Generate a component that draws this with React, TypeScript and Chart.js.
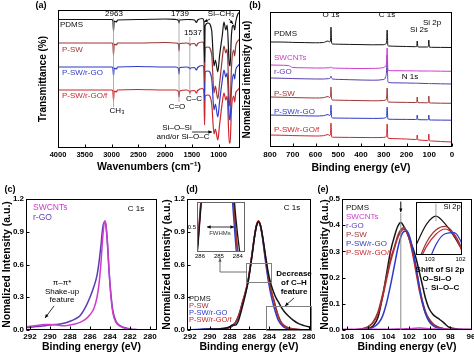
import React, { useEffect, useRef } from 'react';
import { Chart, registerables } from 'chart.js';
Chart.register(...registerables);

const FONT = '"Liberation Sans", Arial, Helvetica, sans-serif';
const COL = { PDMS: '#141414', PSW: '#9b3535', PSWRGO: '#2e3bc6', PSWRGOF: '#cc252d', SWCNT: '#cc3ccf', RGO: '#5a3cb3' };

// ---------- tick labels ----------
const ftirTicks = [4000, 3500, 3000, 2500, 2000, 1500, 1000];
const xpsTicks = [800, 700, 600, 500, 400, 300, 200, 100, 0];
const c1sTicks = [292, 290, 288, 286, 284, 282, 280];
const si2pTicks = [108, 106, 104, 102, 100, 98, 96];
const c1sIntensityTicks = [0, 0.3, 0.6, 0.9, 1.2];
const si2pIntensityTicks = [0, 0.1, 0.2, 0.3, 0.4, 0.5];
const c1sInsetTicks = [286, 285, 284];
const c1sInsetYTicks = [0.5];
const si2pInsetTicks = [103, 102];

// ---------- (a) FTIR ----------
const ftirWavenumbers = [4000, 3500, 3000, 2975, 2963, 2950, 2905, 2890, 2500, 2000, 1800, 1750, 1739, 1728, 1600, 1545, 1537, 1525, 1450, 1415, 1390, 1300, 1275, 1262, 1252, 1200, 1130, 1085, 1060, 1015, 980, 930, 900, 865, 840, 800, 785, 760, 720, 700, 680, 640, 600];
const ftirPDMS = [128.5, 128.5, 128.5, 127.5, 117, 127, 126, 128, 128.5, 129, 128.5, 127.5, 125, 128, 128.5, 128.5, 128.3, 128.5, 128, 125.5, 128, 129.5, 127, 86, 122, 125, 118, 82, 88, 76, 93, 113, 126, 118, 123, 84, 82, 113, 123, 118, 126, 134, 136];
const ftirPSW = [105, 105, 105, 104, 93, 104, 103, 105, 105, 105.5, 105, 104, 97, 104.5, 105, 104, 102.5, 104, 104.5, 102, 104.5, 106, 104, 66, 100, 101, 94, 55, 62, 49, 65, 90, 102, 95, 99, 45, 42, 80, 98, 92, 102, 107, 109];
const ftirPSWrGO = [81, 81, 81, 80, 72.5, 80, 79, 81, 81.5, 81, 81, 79.5, 74, 80.5, 81, 80, 79, 80, 80.5, 78, 80.5, 82.5, 80, 48, 76, 77, 70, 38, 44, 31, 47, 68, 78, 71, 75, 30, 28, 58, 74, 69, 78, 82, 84];
const ftirPSWrGOf = [58, 58, 58, 57, 48, 57, 56, 58, 58.5, 58, 58, 56.5, 51, 57, 58, 56.5, 55, 57, 57.5, 55, 57.5, 59.5, 57, 23, 52, 53, 45, 14, 19, 8, 24, 46, 55, 48, 52, 5, 5, 38, 52, 46, 55, 58, 61];

// ---------- (b) XPS survey ----------
const xpsBE = [800, 760, 720, 700, 650, 600, 565, 545, 538, 534, 532, 529, 525, 500, 450, 400, 350, 300, 292, 288, 285, 282, 278, 260, 200, 160, 155, 153, 150, 145, 110, 104, 102, 99, 90, 50, 0];
const xpsPDMS = [105, 105, 104.8, 104.6, 104.4, 104.2, 104.5, 106, 105, 107, 120, 104, 103, 102.8, 102.6, 102.4, 102.2, 102.3, 103, 104, 117, 101.5, 101, 100.8, 100.5, 100.3, 100.5, 106, 100.2, 100, 100, 100.5, 107, 99.8, 99.7, 99.6, 99.5];
const xpsSWCNT = [82, 81.8, 81.5, 79.5, 79.2, 79, 79, 79.2, 79.3, 79.6, 80.2, 79.3, 79, 78.8, 78.6, 78.5, 78.6, 79.5, 81, 84, 99, 78, 76.5, 76.3, 76.2, 76.1, 76.1, 76.1, 76.1, 76, 76, 76, 76, 76, 76, 75.8, 75.7];
const xpsRGO = [69, 68.8, 68.6, 68.4, 68.2, 68, 68, 68.3, 68.6, 69.5, 71, 69, 68, 67.6, 67.3, 67, 66.8, 67.5, 70, 75, 92, 66, 64.5, 64.2, 64, 63.8, 63.8, 63.8, 63.8, 63.7, 63.5, 63.5, 63.5, 63.4, 63.4, 63.2, 63];
const xpsPSW = [50, 49.8, 49.6, 49.4, 49.2, 49, 49.3, 50.5, 49.5, 51, 60, 48, 47, 46.8, 46.6, 46.4, 46.2, 46.5, 47, 48, 59, 45.5, 45, 44.8, 44.6, 44.5, 44.7, 50, 44.4, 44.3, 44.2, 44.5, 51, 44, 44, 43.8, 43.7];
const xpsPSWrGO = [32, 31.8, 31.6, 31.4, 31.2, 31, 31.3, 32.5, 31.5, 33, 42, 30, 29, 28.9, 28.8, 28.7, 28.6, 28.8, 29.3, 30, 40, 28, 27.8, 27.7, 27.6, 27.5, 27.7, 32, 27.4, 27.3, 27.2, 27.5, 32, 27, 27, 26.9, 26.8];
const xpsPSWrGOf = [12, 11.8, 11.6, 11.4, 11.2, 11, 11.3, 12.5, 11.5, 13, 24, 10, 9.8, 9.7, 9.6, 9.5, 9.4, 9.6, 10, 10.5, 23, 9, 8.6, 8.4, 8, 7.5, 7.7, 12, 7.2, 7, 6.5, 6.8, 13, 6.2, 6, 5.5, 5];

// ---------- (c) C 1s SWCNTs / r-GO ----------
const c1sCBE = [292.4, 292, 291, 290.5, 290, 289.5, 289, 288.5, 288, 287.5, 287, 286.5, 286, 285.6, 285.3, 285.1, 284.9, 284.75, 284.6, 284.5, 284.4, 284.25, 284.1, 283.9, 283.7, 283.4, 283, 282.5, 282, 281.5, 281, 280, 279.3];
const c1sSWCNT = [0.03, 0.035, 0.045, 0.05, 0.05, 0.047, 0.042, 0.04, 0.045, 0.055, 0.07, 0.095, 0.14, 0.2, 0.3, 0.42, 0.62, 0.82, 0.97, 1.0, 0.96, 0.8, 0.55, 0.3, 0.15, 0.07, 0.035, 0.015, 0.008, 0.004, 0.003, 0.002, 0.002];
const c1sRGO = [0.02, 0.025, 0.035, 0.04, 0.045, 0.05, 0.055, 0.065, 0.08, 0.1, 0.13, 0.2, 0.3, 0.4, 0.5, 0.62, 0.78, 0.92, 0.985, 0.99, 0.95, 0.78, 0.55, 0.32, 0.17, 0.08, 0.04, 0.02, 0.01, 0.004, 0.002, 0.002, 0.002];

// ---------- (d) C 1s composites ----------
const c1sDBE = [292.3, 291, 290, 289.1, 288.6, 288.1, 287.7, 287.4, 287.1, 286.9, 286.7, 286.5, 286.3, 286.1, 285.9, 285.7, 285.5, 285.3, 285.1, 284.9, 284.7, 284.5, 284.3, 284.1, 283.9, 283.7, 283.5, 283.3, 283.1, 282.8, 282.5, 282.1, 281.6, 281.1, 280.5, 279.8];
const c1sDPDMS = [0, 0.003, 0.006, 0.01, 0.015, 0.025, 0.045, 0.045, 0.09, 0.15, 0.22, 0.29, 0.37, 0.46, 0.58, 0.71, 0.85, 0.95, 0.99, 0.96, 0.87, 0.75, 0.63, 0.52, 0.44, 0.38, 0.33, 0.29, 0.26, 0.21, 0.17, 0.13, 0.09, 0.06, 0.04, 0.025];
const c1sDPSW = [0, 0.002, 0.004, 0.007, 0.011, 0.022, 0.042, 0.072, 0.13, 0.185, 0.255, 0.315, 0.385, 0.47, 0.59, 0.72, 0.85, 0.955, 0.995, 0.96, 0.865, 0.74, 0.61, 0.49, 0.395, 0.32, 0.255, 0.185, 0.125, 0.068, 0.038, 0.018, 0.009, 0.004, 0.002, 0];
const c1sDPSWrGO = [0, 0.008, 0.012, 0.01, 0.012, 0.02, 0.038, 0.068, 0.125, 0.18, 0.25, 0.31, 0.38, 0.47, 0.59, 0.72, 0.85, 0.955, 0.99, 0.955, 0.85, 0.71, 0.57, 0.45, 0.35, 0.27, 0.2, 0.14, 0.09, 0.05, 0.025, 0.012, 0.006, 0.003, 0.001, 0];
const c1sDPSWrGOf = [0, 0.002, 0.004, 0.006, 0.01, 0.02, 0.04, 0.07, 0.13, 0.19, 0.26, 0.32, 0.39, 0.48, 0.6, 0.73, 0.86, 0.96, 1.0, 0.96, 0.86, 0.73, 0.6, 0.48, 0.39, 0.32, 0.26, 0.19, 0.13, 0.07, 0.04, 0.02, 0.01, 0.005, 0.002, 0];

// ---------- (e) Si 2p ----------
const si2pBE = [108.5, 107, 106, 105.5, 105, 104.6, 104.2, 103.8, 103.4, 103.1, 102.8, 102.5, 102.2, 101.9, 101.6, 101.3, 101.0, 100.7, 100.4, 100.1, 99.7, 99.2, 98.7, 98.2, 97, 95.9];
const si2pPDMS = [0, 0.001, 0.005, 0.015, 0.05, 0.12, 0.21, 0.3, 0.36, 0.395, 0.41, 0.395, 0.37, 0.34, 0.31, 0.27, 0.22, 0.17, 0.12, 0.085, 0.06, 0.045, 0.03, 0.012, 0.003, 0.001];
const si2pSWCNT = [0.003, 0.003, 0.003, 0.003, 0.003, 0.003, 0.003, 0.003, 0.003, 0.004, 0.004, 0.004, 0.005, 0.005, 0.006, 0.007, 0.008, 0.007, 0.006, 0.005, 0.004, 0.003, 0.003, 0.003, 0.003, 0.003];
const si2pRGO = [0.001, 0.001, 0.001, 0.001, 0.001, 0.001, 0.001, 0.001, 0.002, 0.002, 0.002, 0.002, 0.002, 0.002, 0.002, 0.002, 0.002, 0.002, 0.001, 0.001, 0.001, 0.001, 0.001, 0.001, 0.001, 0.001];
const si2pPSW = [0, 0.002, 0.012, 0.03, 0.07, 0.13, 0.2, 0.27, 0.32, 0.36, 0.383, 0.39, 0.375, 0.34, 0.29, 0.23, 0.165, 0.11, 0.07, 0.045, 0.025, 0.012, 0.006, 0.003, 0.001, 0];
const si2pPSWrGO = [0, 0.001, 0.004, 0.01, 0.025, 0.05, 0.1, 0.17, 0.25, 0.31, 0.355, 0.376, 0.378, 0.35, 0.3, 0.235, 0.165, 0.105, 0.062, 0.035, 0.017, 0.007, 0.003, 0.001, 0, 0];
const si2pPSWrGOf = [0, 0.002, 0.011, 0.027, 0.065, 0.12, 0.19, 0.26, 0.315, 0.352, 0.375, 0.385, 0.372, 0.335, 0.28, 0.215, 0.15, 0.1, 0.062, 0.04, 0.022, 0.011, 0.005, 0.002, 0.001, 0];

// ---------- helpers ----------
type Item = {
  t: 'text' | 'line' | 'rect'; px?: boolean; x?: number; y?: number; s?: string; c?: string; f?: number; b?: boolean;
  a?: CanvasTextAlign; x1?: number; y1?: number; x2?: number; y2?: number; w?: number; arrow?: boolean; arrow2?: boolean;
};
type AxisCfg = {
  min: number; max: number; ticks?: number[]; size: number; labels?: boolean; display?: boolean;
  title?: string; titleSize?: number; titlePad?: number; tickPad?: number; tickSize?: number; tickBold?: boolean;
  fmt?: (v: number) => string;
};
type PanelSpec = {
  key: string; left: number; top: number; w: number; h: number;
  pad: { top?: number; right?: number; bottom?: number; left?: number };
  x: AxisCfg; y: AxisCfg; datasets: any[]; items: Item[]; xTicks?: number; yTicks?: number; frameColor?: string;
};

const line = (label: string, xs: number[], ys: number[], color: string, width: number) => ({
  label,
  data: xs.map((x, i) => ({ x, y: ys[i] })),
  borderColor: color,
  backgroundColor: color,
  borderWidth: width,
  pointRadius: 0,
  fill: false,
  cubicInterpolationMode: 'monotone',
});

const T = (x: number, y: number, s: string, c = '#000', f = 8, b = false, a: CanvasTextAlign = 'center'): Item =>
  ({ t: 'text', px: true, x, y, s, c, f, b, a });
const L = (x1: number, y1: number, x2: number, y2: number, c = '#000', w = 1, arrow = false, px = true, arrow2 = false): Item =>
  ({ t: 'line', x1, y1, x2, y2, c, w, arrow, px, arrow2 });
const R = (x1: number, y1: number, x2: number, y2: number, c = '#888', w = 1): Item =>
  ({ t: 'rect', x1, y1, x2, y2, c, w, px: false });

function head(ctx: CanvasRenderingContext2D, x1: number, y1: number, x2: number, y2: number, size: number) {
  const a = Math.atan2(y2 - y1, x2 - x1);
  ctx.beginPath();
  ctx.moveTo(x2, y2);
  ctx.lineTo(x2 - size * Math.cos(a - 0.42), y2 - size * Math.sin(a - 0.42));
  ctx.lineTo(x2 - size * Math.cos(a + 0.42), y2 - size * Math.sin(a + 0.42));
  ctx.closePath();
  ctx.fill();
}

function makeAnno(spec: PanelSpec) {
  return {
    id: 'anno_' + spec.key,
    afterDatasetsDraw(chart: any) {
      const { ctx, chartArea: ca, scales } = chart;
      const xs = scales.x, ys = scales.y;
      const P = (x: number, y: number, px?: boolean): [number, number] =>
        px ? [x - spec.left, y - spec.top] : [xs.getPixelForValue(x), ys.getPixelForValue(y)];
      ctx.save();
      ctx.strokeStyle = spec.frameColor || '#000';
      ctx.lineWidth = 1;
      const l = Math.round(ca.left) + 0.5, t = Math.round(ca.top) + 0.5;
      const r = Math.round(ca.right) - 0.5, b = Math.round(ca.bottom) - 0.5;
      ctx.strokeRect(l, t, r - l, b - t);
      ctx.strokeStyle = '#000';
      ctx.beginPath();
      if (spec.xTicks) for (const tk of xs.ticks) {
        const x = Math.round(xs.getPixelForValue(tk.value)) + 0.5;
        ctx.moveTo(x, b); ctx.lineTo(x, b - spec.xTicks);
      }
      if (spec.yTicks) for (const tk of ys.ticks) {
        const y = Math.round(ys.getPixelForValue(tk.value)) + 0.5;
        ctx.moveTo(l, y); ctx.lineTo(l + spec.yTicks, y);
      }
      ctx.stroke();
      for (const it of spec.items) {
        if (it.t === 'text') {
          const [x, y] = P(it.x!, it.y!, it.px);
          ctx.font = `${it.b ? 'bold ' : ''}${it.f || 8}px ${FONT}`;
          ctx.fillStyle = it.c || '#000';
          ctx.textAlign = it.a || 'center';
          ctx.textBaseline = 'middle';
          ctx.fillText(it.s!, x, y);
        } else if (it.t === 'line') {
          const [x1, y1] = P(it.x1!, it.y1!, it.px);
          const [x2, y2] = P(it.x2!, it.y2!, it.px);
          ctx.strokeStyle = it.c || '#000';
          ctx.fillStyle = it.c || '#000';
          ctx.lineWidth = it.w || 1;
          ctx.beginPath(); ctx.moveTo(x1, y1); ctx.lineTo(x2, y2); ctx.stroke();
          if (it.arrow) head(ctx, x1, y1, x2, y2, 4);
          if (it.arrow2) head(ctx, x2, y2, x1, y1, 4);
        } else if (it.t === 'rect') {
          const [x1, y1] = P(it.x1!, it.y1!, it.px);
          const [x2, y2] = P(it.x2!, it.y2!, it.px);
          ctx.strokeStyle = it.c || '#888';
          ctx.lineWidth = it.w || 1;
          ctx.strokeRect(Math.round(Math.min(x1, x2)) + 0.5, Math.round(Math.min(y1, y2)) + 0.5,
            Math.round(Math.abs(x2 - x1)), Math.round(Math.abs(y2 - y1)));
        }
      }
      ctx.restore();
    },
  };
}

function axis(c: AxisCfg, horizontal: boolean) {
  return {
    type: 'linear',
    display: c.display !== false,
    reverse: horizontal,
    min: c.min,
    max: c.max,
    ticks: {
      autoSkip: false,
      maxRotation: 0,
      display: c.labels !== false,
      color: '#000',
      padding: c.tickPad ?? 2,
      font: { family: FONT, size: c.tickSize ?? 8, weight: c.tickBold === false ? 'normal' : 'bold' },
      callback: (v: any) => (c.fmt ? c.fmt(Number(v)) : String(v)),
    },
    afterBuildTicks: (s: any) => {
      s.ticks = (c.ticks || []).map((v) => ({ value: v }));
    },
    grid: { display: false, drawTicks: false },
    border: { display: false },
    title: {
      display: !!c.title,
      text: c.title || '',
      color: '#000',
      font: { family: FONT, size: c.titleSize ?? 10.5, weight: 'bold' },
      padding: horizontal ? { top: 0, bottom: c.titlePad ?? 0 } : { top: c.titlePad ?? 0, bottom: 0 },
    },
    afterFit: (s: any) => {
      if (horizontal) s.height = c.size; else s.width = c.size;
      s.paddingLeft = 0; s.paddingRight = 0; s.paddingTop = 0; s.paddingBottom = 0;
    },
  };
}

function buildConfig(p: PanelSpec): any {
  return {
    type: 'line',
    data: { datasets: p.datasets },
    plugins: [makeAnno(p)],
    options: {
      responsive: false,
      maintainAspectRatio: false,
      animation: false,
      events: [],
      layout: { padding: { top: 0, right: 0, bottom: 0, left: 0, ...p.pad } },
      plugins: { legend: { display: false }, tooltip: { enabled: false }, title: { display: false } },
      scales: { x: axis(p.x, true), y: axis(p.y, false) },
    },
  };
}

const f1 = (v: number) => v.toFixed(1);

// ---------- panels ----------
const PANELS: PanelSpec[] = [
  {
    key: 'a', left: 0, top: 0, w: 241, h: 175, pad: { top: 10, right: 1 },
    x: { min: 600, max: 4000, ticks: ftirTicks, size: 27, tickPad: 2, tickSize: 7.5, title: 'Wavenumbers (cm\u207B\u00B9)', titleSize: 10.5, titlePad: 1.7 },
    y: { min: 0, max: 138, labels: false, size: 58, title: 'Transmittance (%)', titleSize: 10, titlePad: 37 },
    xTicks: 3,
    datasets: [
      line('PDMS', ftirWavenumbers, ftirPDMS, COL.PDMS, 1.2),
      line('P-SW', ftirWavenumbers, ftirPSW, COL.PSW, 1.2),
      line('P-SW/r-GO', ftirWavenumbers, ftirPSWrGO, COL.PSWRGO, 1.2),
      line('P-SW/r-GO/f', ftirWavenumbers, ftirPSWrGOf, COL.PSWRGOF, 1.2),
    ],
    items: [
      L(2963, 130, 2963, 41, '#9a9a9a', 0.8, false, false),
      L(1739, 130, 1739, 46, '#9a9a9a', 0.8, false, false),
      L(1537, 111, 1537, 53, '#9a9a9a', 0.8, false, false),
      T(41, 6, '(a)', '#000', 9, true),
      T(114, 14, '2963'), T(180, 14, '1739'), T(193, 33, '1537'), T(221, 14, 'Si\u2013CH\u2083'),
      T(60, 25, 'PDMS', COL.PDMS, 8, false, 'left'),
      T(62, 50, 'P-SW', COL.PSW, 8, false, 'left'),
      T(62, 73, 'P-SW/r-GO', COL.PSWRGO, 8, false, 'left'),
      T(62, 96, 'P-SW/r-GO/f', COL.PSWRGOF, 8, false, 'left'),
      T(117, 111, 'CH\u2083'), T(177, 107, 'C=O'), T(194, 99, 'C\u2013C'),
      T(177, 128, 'Si\u2013O\u2013Si'), T(183, 137, 'and/or Si\u2013O\u2013C'),
      L(210, 19, 204, 22, '#000', 0.8, true), L(229, 19, 233, 24, '#000', 0.8, true),
      L(192, 132, 212, 132, '#000', 0.8, true),
    ],
  },
  {
    key: 'b', left: 234, top: 0, w: 240, h: 175, pad: { top: 12, right: 22 },
    x: { min: 0, max: 800, ticks: xpsTicks, size: 28, tickPad: 3, title: 'Binding energy (eV)', titleSize: 10.5, titlePad: 0.7 },
    y: { min: 0, max: 135, labels: false, size: 36, title: 'Nomalized intensity (a.u)', titleSize: 10, titlePad: 7 },
    xTicks: 3,
    datasets: [
      line('PDMS', xpsBE, xpsPDMS, COL.PDMS, 1),
      line('SWCNTs', xpsBE, xpsSWCNT, COL.SWCNT, 1),
      line('r-GO', xpsBE, xpsRGO, COL.RGO, 1),
      line('P-SW', xpsBE, xpsPSW, COL.PSW, 1),
      line('P-SW/r-GO', xpsBE, xpsPSWrGO, COL.PSWRGO, 1),
      line('P-SW/r-GO/f', xpsBE, xpsPSWrGOf, COL.PSWRGOF, 1),
    ],
    items: [
      T(255, 6, '(b)', '#000', 9, true),
      T(331, 15, 'O 1s'), T(387, 15, 'C 1s'), T(419, 30, 'Si 2s'), T(432, 23, 'Si 2p'), T(410, 77, 'N 1s'),
      T(274, 34, 'PDMS', COL.PDMS, 8, false, 'left'),
      T(274, 58, 'SWCNTs', COL.SWCNT, 8, false, 'left'),
      T(274, 72, 'r-GO', COL.RGO, 8, false, 'left'),
      T(274, 94, 'P-SW', COL.PSW, 8, false, 'left'),
      T(274, 112, 'P-SW/r-GO', COL.PSWRGO, 8, false, 'left'),
      T(274, 130, 'P-SW/r-GO/f', COL.PSWRGOF, 8, false, 'left'),
    ],
  },
  {
    key: 'c', left: 0, top: 175, w: 160, h: 182, pad: { top: 24, right: 3 },
    x: { min: 279.3, max: 292.4, ticks: c1sTicks, size: 27, tickPad: 2, title: 'Binding energy (eV)', titlePad: 4 },
    y: { min: 0, max: 1.2, ticks: c1sIntensityTicks, size: 26, tickPad: 2, fmt: f1, title: 'Nomalized Intensity (a.u.)', titlePad: 1.2 },
    xTicks: 3, yTicks: 3,
    datasets: [
      line('SWCNTs', c1sCBE, c1sSWCNT, COL.SWCNT, 1.5),
      line('r-GO', c1sCBE, c1sRGO, COL.RGO, 1.5),
    ],
    items: [
      T(10, 190, '(c)', '#000', 9, true),
      T(33, 208, 'SWCNTs', COL.SWCNT, 8.5, false, 'left'),
      T(33, 218, 'r-GO', COL.RGO, 8.5, false, 'left'),
      T(136, 209, 'C 1s'),
      T(62, 283, '\u03C0\u2013\u03C0*'), T(62, 292, 'Shake-up'), T(62, 300, 'feature'),
      L(54, 306, 45, 318, '#000', 0.8, true),
    ],
  },
  {
    key: 'd', left: 156, top: 175, w: 159, h: 182, pad: { top: 24, right: 4 },
    x: { min: 279.8, max: 292.3, ticks: c1sTicks, size: 27, tickPad: 2, title: 'Binding energy (eV)', titlePad: 4 },
    y: { min: 0, max: 1.2, ticks: c1sIntensityTicks, size: 31, tickPad: 2, fmt: f1, title: 'Normalized Intensity (a.u.)', titlePad: 4.4 },
    xTicks: 3, yTicks: 3,
    datasets: [
      line('PDMS', c1sDBE, c1sDPDMS, COL.PDMS, 1.5),
      line('P-SW', c1sDBE, c1sDPSW, COL.PSW, 1.5),
      line('P-SW/r-GO', c1sDBE, c1sDPSWrGO, COL.PSWRGO, 1.5),
      line('P-SW/r-GO/f', c1sDBE, c1sDPSWrGOf, COL.PSWRGOF, 1.5),
    ],
    items: [
      T(192, 190, '(d)', '#000', 9, true),
      T(292, 208, 'C 1s'),
      T(189, 299, 'PDMS', COL.PDMS, 7.5, false, 'left'),
      T(189, 306, 'P-SW', COL.PSW, 7.5, false, 'left'),
      T(189, 313, 'P-SW/r-GO', COL.PSWRGO, 7.5, false, 'left'),
      T(189, 320, 'P-SW/r-GO/f', COL.PSWRGOF, 7.5, false, 'left'),
      R(286.33, 0.614, 283.83, 0.44, '#808080'),
      R(284.3, 0.22, 279.8, 0, '#808080'),
      L(247, 272, 220, 272, '#606060', 0.9),
      L(220, 272, 220, 258, '#606060', 0.9, true),
      T(294, 274, 'Decrease', '#000', 8, true), T(294, 283, 'of C\u2013H', '#000', 8, true), T(294, 292, 'feature', '#000', 8, true),
      L(294, 298, 285, 306, '#000', 0.8, true),
      L(207, 227, 234, 227, '#000', 0.8, true, true, true),
      T(220, 233, 'FWHMs', '#333', 6),
    ],
  },
  {
    key: 'e', left: 314, top: 175, w: 160, h: 182, pad: { top: 24, right: 2 },
    x: { min: 95.9, max: 108.5, ticks: si2pTicks, size: 27, tickPad: 2, title: 'Binding energy (eV)', titlePad: 4 },
    y: { min: 0, max: 0.5, ticks: si2pIntensityTicks, size: 28, tickPad: 2, fmt: f1, title: 'Normalized intensity (a.u.)', titlePad: 4.4 },
    xTicks: 3, yTicks: 3,
    datasets: [
      line('SWCNTs', si2pBE, si2pSWCNT, COL.SWCNT, 1.5),
      line('r-GO', si2pBE, si2pRGO, COL.RGO, 1.5),
      line('P-SW/r-GO', si2pBE, si2pPSWrGO, COL.PSWRGO, 1.5),
      line('P-SW', si2pBE, si2pPSW, COL.PSW, 1.5),
      line('P-SW/r-GO/f', si2pBE, si2pPSWrGOf, COL.PSWRGOF, 1.5),
      line('PDMS', si2pBE, si2pPDMS, COL.PDMS, 1.5),
    ],
    items: [
      L(102.8, 0, 102.8, 0.447, '#8a8a8a', 1, false, false),
      L(102.8, 0.49, 102.8, 0.45, '#000', 1, true, false),
      T(323, 190, '(e)', '#000', 9, true),
      T(346, 208, 'PDMS', COL.PDMS, 8, false, 'left'),
      T(346, 217, 'SWCNTs', COL.SWCNT, 8, false, 'left'),
      T(346, 226, 'r-GO', COL.RGO, 8, false, 'left'),
      T(346, 235, 'P-SW', COL.PSW, 8, false, 'left'),
      T(346, 244, 'P-SW/r-GO', COL.PSWRGO, 8, false, 'left'),
      T(346, 253, 'P-SW/r-GO/f', COL.PSWRGOF, 8, false, 'left'),
      T(452, 207, 'Si 2p', '#000', 7.5),
      T(440, 270, 'Shift of Si 2p', '#000', 8, true),
      T(437, 279, 'O\u2013Si\u2013O', '#000', 8, true),
      T(440, 288, '\u2192 Si\u2013O\u2013C', '#000', 8, true),
    ],
  },
  {
    key: 'dinset', left: 183, top: 200, w: 65, h: 62, pad: { top: 2, right: 3 },
    x: { min: 283.62, max: 286.16, ticks: c1sInsetTicks, size: 10, tickPad: 1, tickSize: 6, tickBold: false },
    y: { min: 0.44, max: 0.56, ticks: c1sInsetYTicks, size: 14, tickPad: 1, tickSize: 6, tickBold: false, fmt: f1 },
    frameColor: '#666',
    datasets: [
      line('PDMS', c1sDBE, c1sDPDMS, COL.PDMS, 1.3),
      line('P-SW', c1sDBE, c1sDPSW, COL.PSW, 1.3),
      line('P-SW/r-GO', c1sDBE, c1sDPSWrGO, COL.PSWRGO, 1.3),
      line('P-SW/r-GO/f', c1sDBE, c1sDPSWrGOf, COL.PSWRGOF, 1.3),
    ],
    items: [],
  },
  {
    key: 'einset', left: 414, top: 200, w: 52, h: 64, pad: { top: 2, left: 2, right: 4 },
    x: { min: 101.95, max: 103.45, ticks: si2pInsetTicks, size: 9, tickPad: 1, tickSize: 6, tickBold: false },
    y: { min: 0.335, max: 0.437, display: false, size: 0 },
    datasets: [
      line('P-SW/r-GO', si2pBE, si2pPSWrGO, COL.PSWRGO, 1.2),
      line('P-SW', si2pBE, si2pPSW, COL.PSW, 1.2),
      line('P-SW/r-GO/f', si2pBE, si2pPSWrGOf, COL.PSWRGOF, 1.2),
      line('PDMS', si2pBE, si2pPDMS, COL.PDMS, 1.2),
    ],
    items: [L(102.8, 0.4, 102.8, 0.434, '#8a8a8a', 0.8, false, false)],
  },
];

function Panel({ spec }: { spec: PanelSpec }) {
  const ref = useRef<HTMLCanvasElement>(null);
  useEffect(() => {
    if (!ref.current) return;
    const chart = new Chart(ref.current, buildConfig(spec));
    return () => chart.destroy();
  }, [spec]);
  return (
    <canvas
      ref={ref}
      width={spec.w}
      height={spec.h}
      style={{ position: 'absolute', left: spec.left, top: spec.top, width: spec.w, height: spec.h }}
    />
  );
}

export default function App() {
  return (
    <div style={{ position: 'fixed', left: 0, top: 0, width: 474, height: 357, background: '#fff', overflow: 'hidden' }}>
      {PANELS.map((p) => (
        <Panel key={p.key} spec={p} />
      ))}
    </div>
  );
}
